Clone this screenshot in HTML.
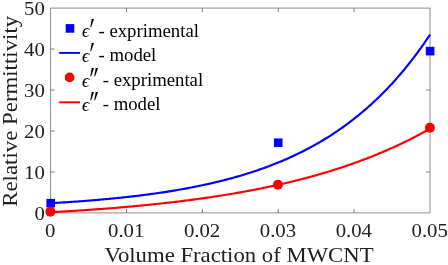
<!DOCTYPE html>
<html><head><meta charset="utf-8"><title>Relative Permittivity vs Volume Fraction of MWCNT</title>
<style>
html,body{margin:0;padding:0;background:#fff;}
body{width:448px;height:265px;overflow:hidden;}
svg{display:block;}
text{font-family:"Liberation Serif","DejaVu Serif",serif;fill:#202020;}
.tk{font-size:19.5px;}
.lb{font-size:21px;}
.lg{font-size:18.3px;fill:#000;}
.pr{fill:#000;}
.ep{font-style:italic;}
.pr{font-style:italic;font-size:35px;}
</style></head><body>
<svg width="448" height="265" viewBox="0 0 448 265">
<rect width="448" height="265" fill="#fff"/>
<rect x="50.6" y="8.1" width="379.40" height="204.80" fill="none" stroke="#8e8e8e" stroke-width="1"/>
<path d="M126.48,212.9 V208.9 M126.48,8.1 V12.1" stroke="#808080" stroke-width="1" fill="none"/>
<path d="M202.36,212.9 V208.9 M202.36,8.1 V12.1" stroke="#808080" stroke-width="1" fill="none"/>
<path d="M278.24,212.9 V208.9 M278.24,8.1 V12.1" stroke="#808080" stroke-width="1" fill="none"/>
<path d="M354.12,212.9 V208.9 M354.12,8.1 V12.1" stroke="#808080" stroke-width="1" fill="none"/>
<path d="M50.6,171.94 H54.6 M430.0,171.94 H426.0" stroke="#808080" stroke-width="1" fill="none"/>
<path d="M50.6,130.98 H54.6 M430.0,130.98 H426.0" stroke="#808080" stroke-width="1" fill="none"/>
<path d="M50.6,90.02 H54.6 M430.0,90.02 H426.0" stroke="#808080" stroke-width="1" fill="none"/>
<path d="M50.6,49.06 H54.6 M430.0,49.06 H426.0" stroke="#808080" stroke-width="1" fill="none"/>
<text class="tk" transform="translate(50.30,237.30) scale(1.065,1)" text-anchor="middle">0</text>
<text class="tk" transform="translate(126.18,237.30) scale(1.065,1)" text-anchor="middle">0.01</text>
<text class="tk" transform="translate(202.06,237.30) scale(1.065,1)" text-anchor="middle">0.02</text>
<text class="tk" transform="translate(277.94,237.30) scale(1.065,1)" text-anchor="middle">0.03</text>
<text class="tk" transform="translate(353.82,237.30) scale(1.065,1)" text-anchor="middle">0.04</text>
<text class="tk" transform="translate(429.70,237.30) scale(1.065,1)" text-anchor="middle">0.05</text>
<text class="tk" transform="translate(44.80,219.50) scale(1.065,1)" text-anchor="end">0</text>
<text class="tk" transform="translate(44.80,178.54) scale(1.065,1)" text-anchor="end">10</text>
<text class="tk" transform="translate(44.80,137.58) scale(1.065,1)" text-anchor="end">20</text>
<text class="tk" transform="translate(44.80,96.62) scale(1.065,1)" text-anchor="end">30</text>
<text class="tk" transform="translate(44.80,55.66) scale(1.065,1)" text-anchor="end">40</text>
<text class="tk" transform="translate(44.80,14.70) scale(1.065,1)" text-anchor="end">50</text>
<text class="lb" transform="translate(239.00,262.10) scale(1.083,1)" text-anchor="middle">Volume Fraction of MWCNT</text>
<text class="lb" transform="translate(16.60,111.30) rotate(-90) scale(1.088,1)" text-anchor="middle">Relative Permittivity</text>
<path d="M50.70,203.19 L52.28,203.10 L53.86,203.01 L55.44,202.91 L57.02,202.82 L58.60,202.72 L60.19,202.62 L61.77,202.52 L63.35,202.42 L64.93,202.32 L66.51,202.22 L68.09,202.11 L69.67,202.01 L71.25,201.90 L72.83,201.79 L74.41,201.68 L75.99,201.57 L77.57,201.46 L79.16,201.34 L80.74,201.22 L82.32,201.11 L83.90,200.99 L85.48,200.86 L87.06,200.74 L88.64,200.62 L90.22,200.49 L91.80,200.36 L93.38,200.23 L94.96,200.10 L96.54,199.97 L98.12,199.83 L99.71,199.69 L101.29,199.55 L102.87,199.41 L104.45,199.27 L106.03,199.12 L107.61,198.98 L109.19,198.83 L110.77,198.68 L112.35,198.52 L113.93,198.37 L115.51,198.21 L117.10,198.05 L118.68,197.89 L120.26,197.73 L121.84,197.56 L123.42,197.39 L125.00,197.22 L126.58,197.05 L128.16,196.87 L129.74,196.69 L131.32,196.51 L132.90,196.33 L134.48,196.14 L136.06,195.96 L137.65,195.77 L139.23,195.57 L140.81,195.38 L142.39,195.18 L143.97,194.98 L145.55,194.77 L147.13,194.57 L148.71,194.36 L150.29,194.14 L151.87,193.93 L153.45,193.71 L155.04,193.49 L156.62,193.26 L158.20,193.04 L159.78,192.81 L161.36,192.57 L162.94,192.33 L164.52,192.09 L166.10,191.85 L167.68,191.60 L169.26,191.35 L170.84,191.10 L172.42,190.84 L174.00,190.58 L175.59,190.32 L177.17,190.05 L178.75,189.78 L180.33,189.50 L181.91,189.22 L183.49,188.94 L185.07,188.65 L186.65,188.36 L188.23,188.07 L189.81,187.77 L191.39,187.47 L192.98,187.16 L194.56,186.85 L196.14,186.53 L197.72,186.21 L199.30,185.89 L200.88,185.56 L202.46,185.22 L204.04,184.89 L205.62,184.54 L207.20,184.20 L208.78,183.84 L210.36,183.49 L211.94,183.13 L213.53,182.76 L215.11,182.39 L216.69,182.01 L218.27,181.63 L219.85,181.24 L221.43,180.85 L223.01,180.45 L224.59,180.05 L226.17,179.64 L227.75,179.22 L229.33,178.80 L230.92,178.38 L232.50,177.95 L234.08,177.51 L235.66,177.06 L237.24,176.61 L238.82,176.16 L240.40,175.70 L241.98,175.23 L243.56,174.75 L245.14,174.27 L246.72,173.78 L248.30,173.29 L249.89,172.78 L251.47,172.28 L253.05,171.76 L254.63,171.24 L256.21,170.71 L257.79,170.17 L259.37,169.63 L260.95,169.07 L262.53,168.51 L264.11,167.95 L265.69,167.37 L267.27,166.79 L268.86,166.20 L270.44,165.60 L272.02,164.99 L273.60,164.37 L275.18,163.75 L276.76,163.12 L278.34,162.48 L279.92,161.83 L281.50,161.17 L283.08,160.50 L284.66,159.82 L286.24,159.14 L287.82,158.44 L289.41,157.73 L290.99,157.02 L292.57,156.29 L294.15,155.56 L295.73,154.81 L297.31,154.06 L298.89,153.29 L300.47,152.51 L302.05,151.73 L303.63,150.93 L305.21,150.12 L306.79,149.30 L308.38,148.47 L309.96,147.63 L311.54,146.77 L313.12,145.91 L314.70,145.03 L316.28,144.14 L317.86,143.24 L319.44,142.32 L321.02,141.40 L322.60,140.46 L324.18,139.51 L325.77,138.54 L327.35,137.56 L328.93,136.57 L330.51,135.56 L332.09,134.54 L333.67,133.51 L335.25,132.46 L336.83,131.40 L338.41,130.32 L339.99,129.23 L341.57,128.12 L343.15,127.00 L344.73,125.87 L346.32,124.71 L347.90,123.54 L349.48,122.36 L351.06,121.16 L352.64,119.94 L354.22,118.71 L355.80,117.46 L357.38,116.19 L358.96,114.90 L360.54,113.60 L362.12,112.28 L363.70,110.94 L365.29,109.58 L366.87,108.20 L368.45,106.81 L370.03,105.39 L371.61,103.96 L373.19,102.51 L374.77,101.03 L376.35,99.54 L377.93,98.02 L379.51,96.49 L381.09,94.93 L382.67,93.36 L384.26,91.76 L385.84,90.13 L387.42,88.49 L389.00,86.83 L390.58,85.14 L392.16,83.42 L393.74,81.69 L395.32,79.93 L396.90,78.15 L398.48,76.34 L400.06,74.51 L401.65,72.65 L403.23,70.76 L404.81,68.85 L406.39,66.92 L407.97,64.96 L409.55,62.97 L411.13,60.95 L412.71,58.91 L414.29,56.84 L415.87,54.74 L417.45,52.61 L419.03,50.45 L420.62,48.26 L422.20,46.04 L423.78,43.79 L425.36,41.51 L426.94,39.20 L428.52,36.86 L430.10,34.48" stroke="#0000ff" stroke-width="2.15" fill="none" stroke-linejoin="round"/>
<path d="M50.70,212.25 L52.28,212.16 L53.86,212.07 L55.44,211.98 L57.02,211.89 L58.60,211.80 L60.19,211.71 L61.77,211.61 L63.35,211.52 L64.93,211.42 L66.51,211.33 L68.09,211.23 L69.67,211.13 L71.25,211.03 L72.83,210.93 L74.41,210.83 L75.99,210.73 L77.57,210.63 L79.16,210.52 L80.74,210.42 L82.32,210.31 L83.90,210.21 L85.48,210.10 L87.06,209.99 L88.64,209.88 L90.22,209.77 L91.80,209.65 L93.38,209.54 L94.96,209.43 L96.54,209.31 L98.12,209.19 L99.71,209.08 L101.29,208.96 L102.87,208.84 L104.45,208.72 L106.03,208.59 L107.61,208.47 L109.19,208.34 L110.77,208.22 L112.35,208.09 L113.93,207.96 L115.51,207.83 L117.10,207.70 L118.68,207.57 L120.26,207.43 L121.84,207.30 L123.42,207.16 L125.00,207.03 L126.58,206.89 L128.16,206.75 L129.74,206.60 L131.32,206.46 L132.90,206.32 L134.48,206.17 L136.06,206.02 L137.65,205.87 L139.23,205.72 L140.81,205.57 L142.39,205.42 L143.97,205.26 L145.55,205.11 L147.13,204.95 L148.71,204.79 L150.29,204.63 L151.87,204.47 L153.45,204.30 L155.04,204.14 L156.62,203.97 L158.20,203.80 L159.78,203.63 L161.36,203.46 L162.94,203.29 L164.52,203.11 L166.10,202.93 L167.68,202.76 L169.26,202.57 L170.84,202.39 L172.42,202.21 L174.00,202.02 L175.59,201.83 L177.17,201.64 L178.75,201.45 L180.33,201.26 L181.91,201.06 L183.49,200.87 L185.07,200.67 L186.65,200.47 L188.23,200.26 L189.81,200.06 L191.39,199.85 L192.98,199.64 L194.56,199.43 L196.14,199.22 L197.72,199.01 L199.30,198.79 L200.88,198.57 L202.46,198.35 L204.04,198.12 L205.62,197.90 L207.20,197.67 L208.78,197.44 L210.36,197.21 L211.94,196.97 L213.53,196.74 L215.11,196.50 L216.69,196.26 L218.27,196.01 L219.85,195.77 L221.43,195.52 L223.01,195.27 L224.59,195.01 L226.17,194.76 L227.75,194.50 L229.33,194.24 L230.92,193.97 L232.50,193.71 L234.08,193.44 L235.66,193.17 L237.24,192.89 L238.82,192.62 L240.40,192.34 L241.98,192.06 L243.56,191.77 L245.14,191.48 L246.72,191.19 L248.30,190.90 L249.89,190.60 L251.47,190.30 L253.05,190.00 L254.63,189.70 L256.21,189.39 L257.79,189.08 L259.37,188.77 L260.95,188.45 L262.53,188.13 L264.11,187.81 L265.69,187.48 L267.27,187.15 L268.86,186.82 L270.44,186.48 L272.02,186.14 L273.60,185.80 L275.18,185.46 L276.76,185.11 L278.34,184.75 L279.92,184.40 L281.50,184.04 L283.08,183.68 L284.66,183.31 L286.24,182.94 L287.82,182.57 L289.41,182.19 L290.99,181.81 L292.57,181.42 L294.15,181.04 L295.73,180.64 L297.31,180.25 L298.89,179.85 L300.47,179.44 L302.05,179.04 L303.63,178.62 L305.21,178.21 L306.79,177.79 L308.38,177.37 L309.96,176.94 L311.54,176.51 L313.12,176.07 L314.70,175.63 L316.28,175.19 L317.86,174.74 L319.44,174.28 L321.02,173.82 L322.60,173.36 L324.18,172.90 L325.77,172.42 L327.35,171.95 L328.93,171.47 L330.51,170.98 L332.09,170.49 L333.67,170.00 L335.25,169.50 L336.83,168.99 L338.41,168.49 L339.99,167.97 L341.57,167.45 L343.15,166.93 L344.73,166.40 L346.32,165.86 L347.90,165.32 L349.48,164.78 L351.06,164.23 L352.64,163.67 L354.22,163.11 L355.80,162.55 L357.38,161.97 L358.96,161.40 L360.54,160.81 L362.12,160.22 L363.70,159.63 L365.29,159.03 L366.87,158.42 L368.45,157.81 L370.03,157.19 L371.61,156.57 L373.19,155.94 L374.77,155.30 L376.35,154.66 L377.93,154.01 L379.51,153.35 L381.09,152.69 L382.67,152.03 L384.26,151.35 L385.84,150.67 L387.42,149.98 L389.00,149.29 L390.58,148.59 L392.16,147.88 L393.74,147.16 L395.32,146.44 L396.90,145.71 L398.48,144.98 L400.06,144.23 L401.65,143.48 L403.23,142.73 L404.81,141.96 L406.39,141.19 L407.97,140.41 L409.55,139.62 L411.13,138.83 L412.71,138.02 L414.29,137.21 L415.87,136.39 L417.45,135.57 L419.03,134.73 L420.62,133.89 L422.20,133.04 L423.78,132.18 L425.36,131.31 L426.94,130.44 L428.52,129.55 L430.10,128.66" stroke="#ff0000" stroke-width="2.15" fill="none" stroke-linejoin="round"/>
<rect x="46.40" y="198.90" width="8.6" height="8.6" fill="#0000ff"/>
<rect x="273.95" y="138.45" width="8.6" height="8.6" fill="#0000ff"/>
<rect x="425.80" y="46.80" width="8.6" height="8.6" fill="#0000ff"/>
<circle cx="50.40" cy="211.65" r="5.0" fill="#ff0000"/>
<circle cx="278.00" cy="184.75" r="5.0" fill="#ff0000"/>
<circle cx="429.90" cy="127.75" r="5.0" fill="#ff0000"/>
<rect x="65.70" y="24.10" width="8.6" height="8.6" fill="#0000ff"/>
<path d="M59.2,52.9 H80.0" stroke="#0000ff" stroke-width="1.9"/>
<circle cx="69.6" cy="77.4" r="4.9" fill="#ff0000"/>
<path d="M59.2,102.3 H80.0" stroke="#ff0000" stroke-width="1.9"/>
<text class="lg ep" transform="translate(81.90,37.40)" text-anchor="start">ϵ</text>
<text class="pr" transform="translate(85.90,41.50) skewX(-6) scale(0.7,1)">′</text>
<text class="lg" transform="translate(98.50,36.50) scale(1.025,1)" text-anchor="start">- exprimental</text>
<text class="lg ep" transform="translate(81.90,61.70)" text-anchor="start">ϵ</text>
<text class="pr" transform="translate(85.90,65.80) skewX(-6) scale(0.7,1)">′</text>
<text class="lg" transform="translate(98.50,60.80) scale(1.025,1)" text-anchor="start">- model</text>
<text class="lg ep" transform="translate(81.90,87.10)" text-anchor="start">ϵ</text>
<text class="pr" transform="translate(85.90,91.20) skewX(-6) scale(0.7,1)">′</text>
<text class="pr" transform="translate(89.90,91.20) skewX(-6) scale(0.7,1)">′</text>
<text class="lg" transform="translate(102.70,86.20) scale(1.025,1)" text-anchor="start">- exprimental</text>
<text class="lg ep" transform="translate(81.90,111.10)" text-anchor="start">ϵ</text>
<text class="pr" transform="translate(85.90,115.20) skewX(-6) scale(0.7,1)">′</text>
<text class="pr" transform="translate(89.90,115.20) skewX(-6) scale(0.7,1)">′</text>
<text class="lg" transform="translate(102.70,110.20) scale(1.025,1)" text-anchor="start">- model</text>
</svg></body></html>
